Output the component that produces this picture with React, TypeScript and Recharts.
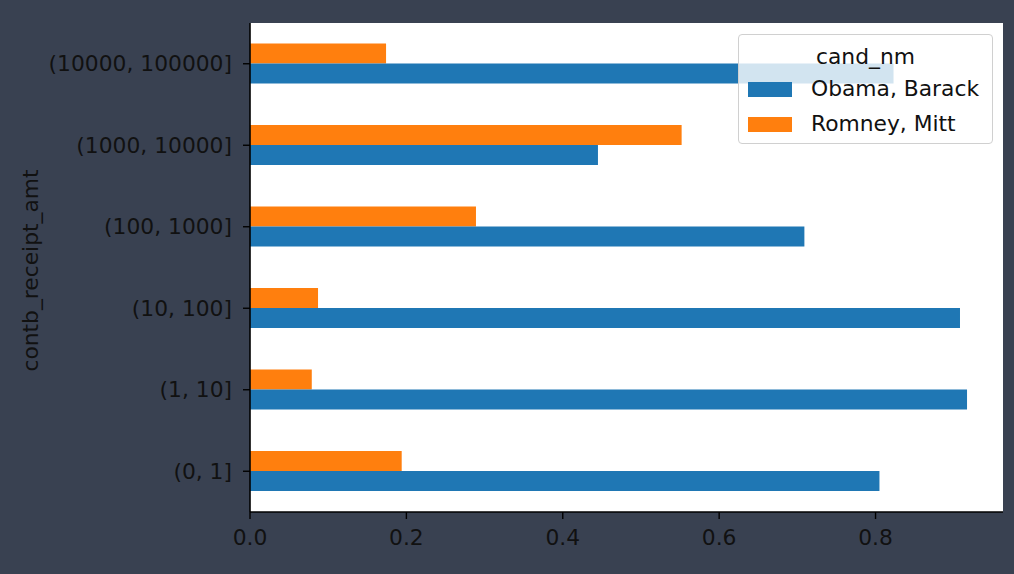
import { BarChart, Bar, XAxis, YAxis, CartesianGrid } from "recharts"

// share of contributions per bucket
const CATEGORIES = ['(0, 1]', '(1, 10]', '(10, 100]', '(100, 1000]', '(1000, 10000]', '(10000, 100000]']
const OBAMA = [0.805, 0.917, 0.908, 0.709, 0.445, 0.823]
const ROMNEY = [0.194, 0.079, 0.087, 0.289, 0.552, 0.174]
const X_TICKS = [0, 0.2, 0.4, 0.6, 0.8]
const SERIES = [
    { key: 'obama', name: 'Obama, Barack', color: '#1f77b4' },
    { key: 'romney', name: 'Romney, Mitt', color: '#ff7f0e' },
]

const DATA = CATEGORIES.map((range, i) => ({ range, obama: OBAMA[i], romney: ROMNEY[i] }))

const FONT = '"DejaVu Sans", sans-serif'
const FONT_SIZE = 21.8
const TEXT = '#111'
const BG = '#394151'

const tickStyle = { fill: TEXT, fontSize: FONT_SIZE, fontFamily: FONT }

const renderYLabel = (props: any) => {
    const { viewBox } = props
    const x = viewBox.x + 30
    const y = viewBox.y + viewBox.height / 2 + 3
    return (
        <text
            x={x}
            y={y}
            transform={`rotate(-90 ${x} ${y})`}
            textAnchor="middle"
            dominantBaseline="central"
            fill={TEXT}
            fontSize={FONT_SIZE}
            fontFamily={FONT}
        >
            contb_receipt_amt
        </text>
    )
}

export default function App() {
    return (
        <div style={{ position: 'absolute', left: 0, top: 0, width: 1014, height: 574, background: BG }}>
            <BarChart
                width={1014}
                height={574}
                data={DATA}
                layout="vertical"
                margin={{ top: 23, right: 11, bottom: 0, left: 0 }}
                barCategoryGap="25%"
                barGap={0}
            >
                <CartesianGrid fill="#ffffff" stroke="none" horizontal={false} vertical={false} />
                <XAxis
                    type="number"
                    domain={[0, 0.963]}
                    ticks={X_TICKS}
                    tickFormatter={(v) => v.toFixed(1)}
                    tick={tickStyle}
                    tickSize={7}
                    tickMargin={11}
                    height={62}
                    axisLine={{ stroke: '#000', strokeWidth: 1.6 }}
                    tickLine={{ stroke: '#000', strokeWidth: 1.4 }}
                />
                <XAxis
                    xAxisId="top"
                    orientation="top"
                    type="number"
                    domain={[0, 0.963]}
                    height={0}
                    tick={false}
                    tickLine={false}
                    axisLine={{ stroke: '#000', strokeWidth: 1.6 }}
                />
                <YAxis
                    type="category"
                    dataKey="range"
                    reversed
                    width={250}
                    tick={tickStyle}
                    tickSize={7}
                    tickMargin={11}
                    axisLine={{ stroke: '#000', strokeWidth: 1.6 }}
                    tickLine={{ stroke: '#000', strokeWidth: 1.4 }}
                    label={renderYLabel}
                />
                <YAxis
                    yAxisId="right"
                    orientation="right"
                    type="category"
                    dataKey="range"
                    width={0}
                    tick={false}
                    tickLine={false}
                    axisLine={{ stroke: '#000', strokeWidth: 1.6 }}
                />
                {/* romney first so it sits above obama inside each band, like pandas barh */}
                <Bar dataKey="romney" name="Romney, Mitt" fill="#ff7f0e" isAnimationActive={false} />
                <Bar dataKey="obama" name="Obama, Barack" fill="#1f77b4" isAnimationActive={false} />
            </BarChart>

            <div
                style={{
                    position: 'absolute',
                    left: 738,
                    top: 34,
                    width: 255,
                    height: 110,
                    boxSizing: 'border-box',
                    background: 'rgba(255,255,255,0.8)',
                    border: '1px solid #d0d0d0',
                    borderRadius: 4,
                    fontFamily: FONT,
                    fontSize: FONT_SIZE,
                    color: TEXT,
                }}
            >
                <div style={{ position: 'absolute', top: 10, left: 0, width: '100%', textAlign: 'center', lineHeight: '24px' }}>
                    cand_nm
                </div>
                {SERIES.map((s, i) => (
                    <div
                        key={s.key}
                        style={{ position: 'absolute', left: 9, top: 42 + i * 35, display: 'flex', alignItems: 'center', lineHeight: '24px' }}
                    >
                        <span style={{ display: 'inline-block', width: 44, height: 15, background: s.color, marginRight: 19 }} />
                        <span>{s.name}</span>
                    </div>
                ))}
            </div>
        </div>
    )
}
